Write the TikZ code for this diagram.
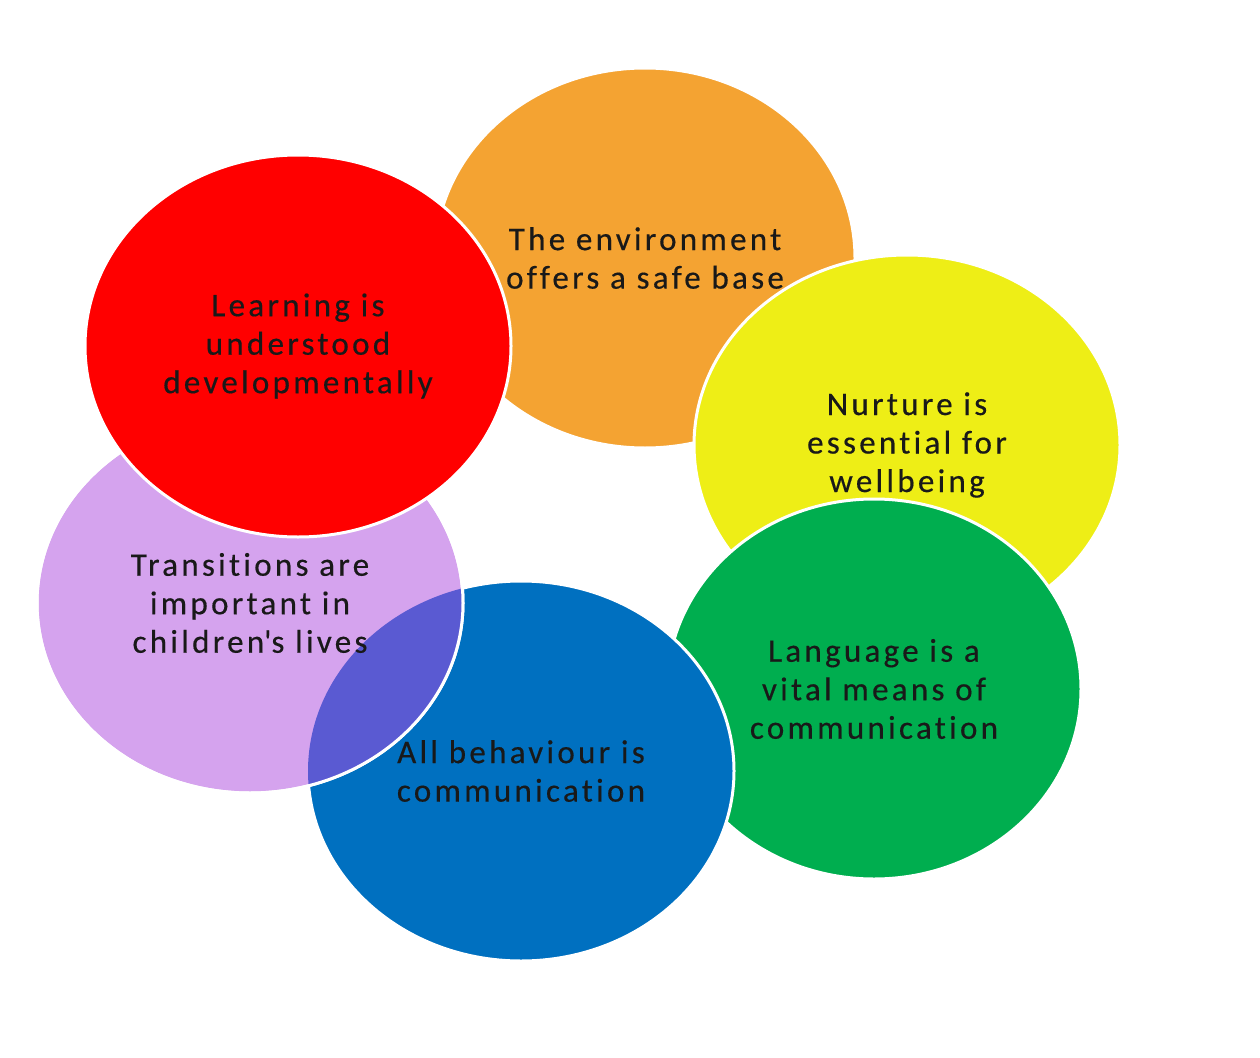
\documentclass[tikz,border=0pt]{standalone}
\usepackage{fontspec}
\setmainfont{Carlito}[LetterSpace=10,Ligatures={NoCommon},FakeBold=0.4]
\usetikzlibrary{shapes.geometric}
\definecolor{orangeB}{HTML}{F4A332}
\definecolor{redB}{HTML}{FF0000}
\definecolor{yellowB}{HTML}{EEEE16}
\definecolor{greenB}{HTML}{00AE4F}
\definecolor{blueB}{HTML}{0070C0}
\definecolor{purpleB}{HTML}{D5A3EE}
\definecolor{mixB}{HTML}{5A5AD2}
\tikzset{bubble/.style={ellipse,draw=white,line width=3pt,inner sep=0pt,
  minimum width=426pt,minimum height=380pt,align=center,text=black!90,
  font=\fontsize{33}{38.5}\selectfont}}
\begin{document}
\begin{tikzpicture}[x=1pt,y=-1pt]
\useasboundingbox[fill=white] (0,0) rectangle (1260,1057);
\coordinate (O) at (645,258);
\coordinate (Y) at (907,445);
\coordinate (G) at (874,689);
\coordinate (B) at (521,771);
\coordinate (P) at (250,603);
\coordinate (R) at (298,346);
\node[bubble,fill=orangeB,minimum width=420pt] (env) at (O) {The environment\\offers a safe base};
\node[bubble,fill=yellowB] (nurt) at (Y) {Nurture is\\essential for\\wellbeing};
\node[bubble,fill=greenB,minimum width=414pt] (lang) at (G) {Language is a\\vital means of\\communication};
\node[bubble,fill=blueB] (behav) at (B) {All behaviour is\\communication};
\node[bubble,fill=purpleB] (trans) at (P) {};
\begin{scope}
\clip (P) ellipse [x radius=213, y radius=190];
\fill[mixB] (B) ellipse [x radius=213, y radius=190];
\end{scope}
\draw[white,line width=3pt] (P) ellipse [x radius=213, y radius=190];
\node[bubble,draw=none] (transtxt) at (P) {Transitions are\\important in\\children\textquotesingle s lives};
\node[bubble,fill=redB,minimum height=382pt] (learn) at (R) {Learning is\\understood\\developmentally};
\end{tikzpicture}
\end{document}
